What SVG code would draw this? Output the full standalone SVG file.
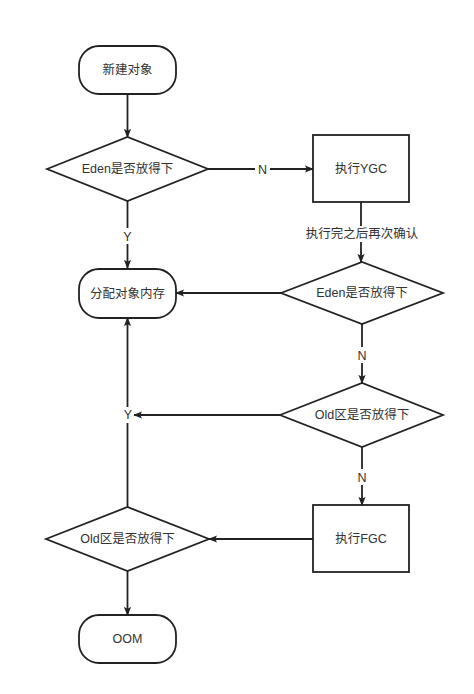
<svg xmlns="http://www.w3.org/2000/svg" width="474" height="694" viewBox="0 0 474 694">
<style>
.n{fill:#fff;stroke:#222;stroke-width:1.8}
.e{fill:none;stroke:#222;stroke-width:1.8}
text{font-family:"Liberation Sans","Noto Sans CJK SC",sans-serif;font-size:12.5px;fill:#333;text-anchor:middle;dominant-baseline:central}
</style>
<defs>
<marker id="a" viewBox="0 0 10 10" refX="9" refY="5" markerWidth="9" markerHeight="9" orient="auto" markerUnits="userSpaceOnUse">
<path d="M0,1 L10,5 L0,9 L2,5 Z" fill="#222"/>
</marker>
</defs>
<rect width="474" height="694" fill="#fff"/>
<g id="connectors">
<path class="e" d="M127.5,94 V137" marker-end="url(#a)"/>
<path class="e" d="M208,169 H313" marker-end="url(#a)"/>
<path class="e" d="M127.5,201 V268" marker-end="url(#a)"/>
<path class="e" d="M361,202 V262" marker-end="url(#a)"/>
<path class="e" d="M281,293 H176" marker-end="url(#a)"/>
<path class="e" d="M362,324 V383" marker-end="url(#a)"/>
<path class="e" d="M280,415 H134" marker-end="url(#a)"/>
<path class="e" d="M362,447 V505" marker-end="url(#a)"/>
<path class="e" d="M313,539 H209" marker-end="url(#a)"/>
<path class="e" d="M127.5,507 V318" marker-end="url(#a)"/>
<path class="e" d="M127.5,571 V615" marker-end="url(#a)"/>
<rect x="255" y="161" width="15" height="16" fill="#fff"/>
<text x="262.5" y="169.5">N</text>
<rect x="120" y="228" width="15" height="16" fill="#fff"/>
<text x="127.5" y="236.5">Y</text>
<rect x="302" y="226" width="120" height="16" fill="#fff"/>
<text x="362" y="234">执行完之后再次确认</text>
<rect x="354" y="347" width="16" height="16" fill="#fff"/>
<text x="362" y="355.5">N</text>
<rect x="121" y="407" width="13" height="16" fill="#fff"/>
<text x="128" y="415">Y</text>
<rect x="354" y="469" width="16" height="16" fill="#fff"/>
<text x="362" y="477.5">N</text>
</g>
<g id="new-object">
<rect class="n" x="79" y="46" width="97" height="48" rx="20"/>
<text x="127.5" y="70">新建对象</text>
</g>
<g id="eden-check-1">
<path class="n" d="M47,169 L127.5,137 L208,169 L127.5,201 Z"/>
<text x="127.5" y="169">Eden是否放得下</text>
</g>
<g id="ygc">
<rect class="n" x="313" y="135" width="96" height="67"/>
<text x="361" y="168.5">执行YGC</text>
</g>
<g id="allocate">
<rect class="n" x="79" y="269" width="97" height="49" rx="20"/>
<text x="127.5" y="293.5">分配对象内存</text>
</g>
<g id="eden-check-2">
<path class="n" d="M281,293 L362,262 L443,293 L362,324 Z"/>
<text x="362" y="293">Eden是否放得下</text>
</g>
<g id="old-check-1">
<path class="n" d="M280,415 L362,383 L443,415 L362,447 Z"/>
<text x="362" y="415">Old区是否放得下</text>
</g>
<g id="fgc">
<rect class="n" x="313" y="505" width="96" height="67"/>
<text x="361" y="538.5">执行FGC</text>
</g>
<g id="old-check-2">
<path class="n" d="M46,539 L127.5,507 L209,539 L127.5,571 Z"/>
<text x="127.5" y="539">Old区是否放得下</text>
</g>
<g id="oom">
<rect class="n" x="79" y="615" width="97" height="48" rx="20"/>
<text x="127.5" y="639">OOM</text>
</g>
</svg>
